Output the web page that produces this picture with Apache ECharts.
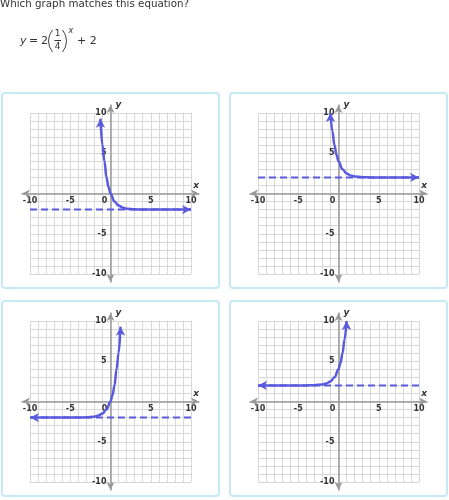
<!DOCTYPE html>
<html>
<head>
<meta charset="utf-8">
<script src="https://cdn.jsdelivr.net/npm/echarts@6/dist/echarts.min.js"></script>
<style>
html, body { margin: 0; padding: 0; background: #fff; }
#chart { width: 449px; height: 500px; }
</style>
</head>
<body>
<div id="chart"></div>
<script>
// points (top-left, top-right, bottom-left, bottom-right)
var curveX1 = [-1.25, -1, -0.75, -0.5, -0.25, 0, 0.5, 1, 1.5, 2, 3, 4, 6, 8, 10];
var curveY1 = [9.3, 6, 4, 2, 0.8, 0, -1, -1.5, -1.75, -1.88, -1.97, -2, -2, -2, -2];
var curveX2 = [-1, -0.75, -0.5, -0.25, 0, 0.5, 1, 1.5, 2, 3, 4, 6, 8, 10];
var curveY2 = [10, 7.7, 6, 4.8, 4, 3, 2.5, 2.25, 2.12, 2.03, 2, 2, 2, 2];
var curveX3 = [-10, -8, -6, -4, -3, -2, -1.5, -1, -0.5, 0, 0.25, 0.5, 0.75, 1, 1.25];
var curveY3 = [-2, -2, -2, -2, -1.97, -1.88, -1.75, -1.5, -1, 0, 0.8, 2, 4, 6, 9.3];
var curveX4 = [-10, -8, -6, -4, -3, -2, -1.5, -1, -0.5, 0, 0.25, 0.5, 0.75, 1];
var curveY4 = [2, 2, 2, 2, 2.03, 2.12, 2.25, 2.5, 3, 4, 4.8, 6, 7.7, 10];
var asymptotes = [-2, 2, -2, 2];
var xTicks = [-10, -5, 0, 5, 10];
var yTicks = [-10, -5, 5, 10];

var BLUE = '#5a5ade';
var FONT = '"DejaVu Sans", Verdana, sans-serif';

var panels = [
  { left: 30, top: 113, xs: curveX1, ys: curveY1, rot: [0, -90] },
  { left: 258, top: 113, xs: curveX2, ys: curveY2, rot: [0, -90] },
  { left: 30, top: 321, xs: curveX3, ys: curveY3, rot: [90, 0] },
  { left: 258, top: 321, xs: curveX4, ys: curveY4, rot: [90, 0] }
];
var boxes = [[2, 93], [230, 93], [2, 301], [230, 301]];

var grids = [], xAxes = [], yAxes = [], series = [];

var labelStyle = { color: '#333', fontSize: 8, fontWeight: 'bold', fontFamily: FONT };

panels.forEach(function (p, i) {
  var a = 2 * i, b = 2 * i + 1;
  // grid with the squared paper
  grids.push({ left: p.left, top: p.top, width: 161, height: 161, outerBoundsMode: 'none' });
  // slightly larger grid that only carries the axes with arrows
  grids.push({ left: p.left - 8, top: p.top - 8, width: 177, height: 177, outerBoundsMode: 'none' });

  var paper = {
    type: 'value', min: -10, max: 10, interval: 1,
    axisLine: { show: false }, axisTick: { show: false }, axisLabel: { show: false },
    splitLine: { show: true, lineStyle: { color: '#d8d8d8', width: 1 } }
  };
  xAxes.push(Object.assign({ gridIndex: a }, paper));
  yAxes.push(Object.assign({ gridIndex: a }, paper));

  // axes pushed into the middle of the paper, so labels go along with the line
  var axisLine = {
    show: true, onZero: false, symbol: ['arrow', 'arrow'], symbolSize: [6, 8],
    lineStyle: { color: '#999', width: 1.5 }
  };
  xAxes.push({
    gridIndex: b, type: 'value', min: -11, max: 11, interval: 1, offset: -88.5,
    axisLine: axisLine, axisTick: { show: false }, splitLine: { show: false },
    axisLabel: Object.assign({
      margin: 3,
      formatter: function (v) {
        v = Math.round(v);
        if (v === 0) return '{z|0}';
        return xTicks.indexOf(v) >= 0 ? String(v) : '';
      },
      rich: { z: { padding: [0, 12, 0, 0], fontSize: 8, fontWeight: 'bold', fontFamily: FONT, color: '#333' } }
    }, labelStyle),
    name: 'x', nameLocation: 'end', nameGap: 0,
    nameTextStyle: { color: '#333', fontSize: 9, fontStyle: 'italic', fontWeight: 'bold', fontFamily: FONT,
      align: 'right', verticalAlign: 'bottom', padding: [0, 0, 3, 0] }
  });
  yAxes.push({
    gridIndex: b, type: 'value', min: -11, max: 11, interval: 1, offset: -88.5,
    axisLine: axisLine, axisTick: { show: false }, splitLine: { show: false },
    axisLabel: Object.assign({
      margin: 4,
      formatter: function (v) {
        v = Math.round(v);
        return yTicks.indexOf(v) >= 0 ? String(v) : '';
      }
    }, labelStyle),
    name: 'y', nameLocation: 'end', nameGap: 0,
    nameTextStyle: { color: '#333', fontSize: 9, fontStyle: 'italic', fontWeight: 'bold', fontFamily: FONT,
      align: 'left', verticalAlign: 'middle', padding: [0, 0, 0, 5] }
  });

  var data = p.xs.map(function (x, k) {
    var item = { value: [x, p.ys[k]] };
    if (k === 0 || k === p.xs.length - 1) {
      item.symbol = 'arrow';
      item.symbolSize = [7, 9];
      item.symbolRotate = k === 0 ? p.rot[0] : p.rot[1];
    }
    return item;
  });

  series.push({
    type: 'line', xAxisIndex: a, yAxisIndex: a,
    data: [[-10, asymptotes[i]], [10, asymptotes[i]]],
    symbol: 'none', silent: true, z: 2,
    lineStyle: { color: BLUE, width: 2, type: [7, 4] }
  });
  series.push({
    type: 'line', xAxisIndex: a, yAxisIndex: a, data: data,
    smooth: 0.4, smoothMonotone: 'x', symbol: 'none', clip: false, silent: true, z: 3,
    itemStyle: { color: BLUE },
    lineStyle: { color: BLUE, width: 2.5 }
  });
});

var graphic = boxes.map(function (bx) {
  return {
    type: 'rect', z: -10, shape: { x: bx[0], y: bx[1], width: 217, height: 195, r: 3 },
    style: { fill: '#fff', stroke: '#c4eaf6', lineWidth: 2 }
  };
});

var eq = { fill: '#333', font: '11px ' + FONT, textVerticalAlign: 'middle' };
var paren = { stroke: '#444', lineWidth: 1, fill: null };
graphic.push(
  { type: 'text', x: 0, y: 4.5, style: { text: 'Which graph matches this equation?', fill: '#333', font: '10.3px ' + FONT, textVerticalAlign: 'middle' } },
  { type: 'text', x: 20, y: 41, style: Object.assign({}, eq, { text: 'y', font: 'italic 11px ' + FONT }) },
  { type: 'text', x: 29, y: 41, style: Object.assign({}, eq, { text: '=' }) },
  { type: 'text', x: 41, y: 41, style: Object.assign({}, eq, { text: '2' }) },
  { type: 'arc', shape: { cx: 65.6, cy: 41, r: 17.1, startAngle: Math.PI - 0.7, endAngle: Math.PI + 0.7 }, style: paren },
  { type: 'text', x: 57.5, y: 34, style: Object.assign({}, eq, { text: '1', font: '9px ' + FONT, textAlign: 'center' }) },
  { type: 'line', shape: { x1: 54.5, y1: 40.5, x2: 61, y2: 40.5 }, style: { stroke: '#333', lineWidth: 1 } },
  { type: 'text', x: 57.5, y: 47, style: Object.assign({}, eq, { text: '4', font: '9px ' + FONT, textAlign: 'center' }) },
  { type: 'arc', shape: { cx: 49.4, cy: 41, r: 17.1, startAngle: -0.7, endAngle: 0.7 }, style: paren },
  { type: 'text', x: 68.5, y: 31, style: Object.assign({}, eq, { text: 'x', font: 'italic 8px ' + FONT }) },
  { type: 'text', x: 77, y: 41, style: Object.assign({}, eq, { text: '+ 2' }) }
);

var chart = echarts.init(document.getElementById('chart'));
chart.setOption({
  animation: false,
  backgroundColor: '#fff',
  graphic: graphic,
  grid: grids,
  xAxis: xAxes,
  yAxis: yAxes,
  series: series
});
</script>
</body>
</html>
